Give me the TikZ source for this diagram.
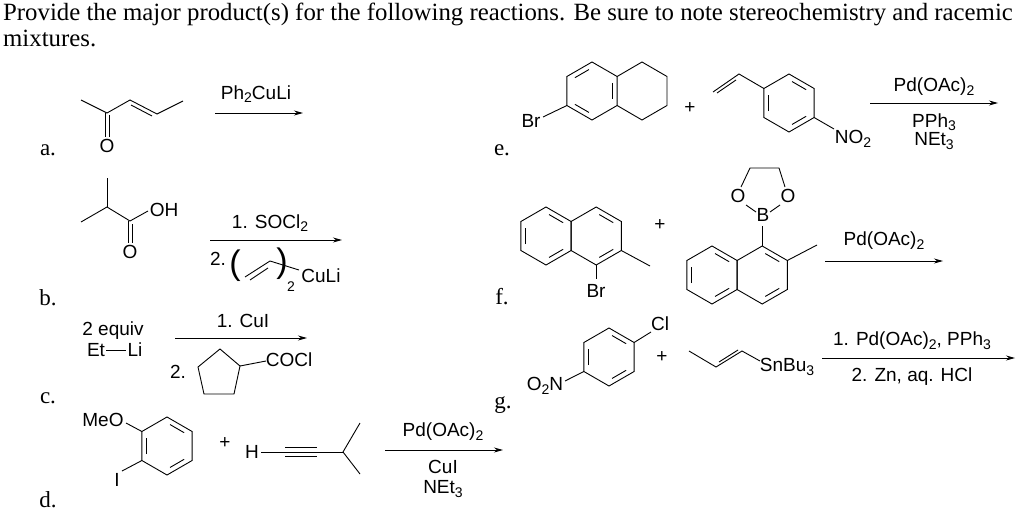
\documentclass[tikz,border=0pt]{standalone}
\usepackage{fontspec}
\setmainfont{Liberation Serif}
\newfontfamily\chemf{Liberation Sans}
\usetikzlibrary{arrows.meta,calc}
\tikzset{
  bd/.style={line width=0.9pt},
  lab/.style={font=\chemf\fontsize{19}{21}\selectfont, inner sep=0pt},
  let/.style={font=\fontsize{23}{24}\selectfont, inner sep=0pt},
  rx/.style={line width=0.9pt,-{Stealth[length=9pt,width=5pt]}},
}
\newcommand\sbs[1]{\raisebox{-0.35ex}{\fontsize{14}{14}\selectfont #1}}
\newcommand\hexring[3]{\draw[bd,shift={(#1,#2)}] (30:#3)--(90:#3)--(150:#3)--(210:#3)--(270:#3)--(330:#3)--cycle;}
\newcommand\inb[5]{\draw[bd,shift={(#1,#2)},shorten <=3.5pt,shorten >=3.5pt] (#3:{#5*0.8}) -- (#4:{#5*0.8});}
\begin{document}
\begin{tikzpicture}[x=1pt,y=-1pt]
\useasboundingbox (0,0) rectangle (1024,513);
% title
\node[anchor=west,inner sep=0pt,font=\fontsize{24.8}{28}\selectfont] (t1) at (3,14) {Provide the major product(s) for the following reactions. Be sure to note stereochemistry and racemic};
\node[anchor=west,inner sep=0pt,font=\fontsize{24.8}{28}\selectfont] (t2) at (3,38) {mixtures.};
% letters
\node[let] (la) at (48,150) {a.};
\node[let] (lb) at (48,298) {b.};
\node[let] (lc) at (48,398) {c.};
\node[let] (ld) at (48,500) {d.};
\node[let] (le) at (502,150) {e.};
\node[let] (lf) at (502,297) {f.};
\node[let] (lg) at (503,405) {g.};
% ---- a
\draw[bd] (81,100)--(107,113)--(130,100)--(157,114)--(183,101);
\draw[bd] (131,105)--(152,116);
\draw[bd] (105,113)--(105,137) (109,115)--(109,137);
\node[lab] (oa) at (107,146) {O};
\coordinate (a1) at (215,113); \coordinate (a2) at (303,113);
\draw[rx] (a1)--(a2);
\node[lab] (ra) at (256,94) {Ph\sbs{2}CuLi};
% ---- b
\draw[bd] (107,178)--(107,207);
\draw[bd] (81,222)--(107,207)--(130,221)--(148,211);
\node[lab] (ohb) at (164,210) {OH};
\draw[bd] (128,221)--(128,243) (132,224)--(132,243);
\node[lab] (ob) at (130,252) {O};
\coordinate (b1) at (210,240); \coordinate (b2) at (342,240);
\draw[rx] (b1)--(b2);
\node[lab] (rb1) at (270,223) {1. SOCl\sbs{2}};
\node[lab] (rb2) at (218,259) {2.};
\node[inner sep=0pt,font=\chemf\fontsize{34}{34}\selectfont] (pl) at (235,266) {(};
\node[inner sep=0pt,font=\chemf\fontsize{34}{34}\selectfont] (pr) at (282,264) {)};
\draw[bd] (245,277)--(270,261)--(299,270);
\draw[bd] (250,280)--(268,268);
\node[inner sep=0pt,font=\chemf\fontsize{14}{14}\selectfont] (sub2) at (291,287) {2};
\node[lab] (culi) at (321,276) {CuLi};
% ---- c
\node[lab] (eq) at (113,331) {2 equiv};
\node[lab] (et) at (96,350) {Et};
\node[lab] (li) at (135,350) {Li};
\draw[bd] (106,350)--(126,350);
\coordinate (c1) at (175,338); \coordinate (c2) at (307,338);
\draw[rx] (c1)--(c2);
\node[lab] (rc1) at (243,321) {1. CuI};
\node[lab] (rc2) at (178,372) {2.};
\draw[bd] (220,349)--(240,366)--(234,394)--(204,394)--(198,367)--cycle;
\draw[bd] (240,366)--(266,361);
\node[lab] (cocl) at (289,360) {COCl};
% ---- d
\hexring{167}{446}{29}
\inb{167}{446}{150}{210}{29}
\inb{167}{446}{270}{330}{29}
\inb{167}{446}{30}{90}{29}
\draw[bd] (141.9,431.5)--(126,423);
\node[lab] (meo) at (103,420) {MeO};
\draw[bd] (141.9,460.5)--(122,471);
\node[lab] (iod) at (117,480) {I};
\node[lab] (pd) at (225,443) {+};
\node[lab] (hd) at (252,452) {H};
\draw[bd] (261,452)--(343,452);
\draw[bd] (285,447.5)--(317,447.5) (285,456.5)--(317,456.5);
\draw[bd] (360,423)--(343,452)--(360,474);
\coordinate (d1) at (385,450); \coordinate (d2) at (503,450);
\draw[rx] (d1)--(d2);
\node[lab] (rd1) at (443,432) {Pd(OAc)\sbs{2}};
\node[lab] (rd2) at (443,467) {CuI};
\node[lab] (rd3) at (443,489) {NEt\sbs{3}};
% ---- e
\hexring{592}{91}{29}
\inb{592}{91}{210}{270}{29}
\inb{592}{91}{330}{30}{29}
\inb{592}{91}{90}{150}{29}
\draw[bd] (617.1,76.5)--(642,62)--(667,76.5)--(667,105.5)--(642,120)--(617.1,105.5);
\draw[bd] (566.9,105.5)--(543,117);
\node[lab] (bre) at (531,121) {Br};
\node[lab] (pe) at (690,108) {+};
\hexring{789}{103}{29}
\inb{789}{103}{150}{210}{29}
\inb{789}{103}{270}{330}{29}
\inb{789}{103}{30}{90}{29}
\draw[bd] (713,92)--(739,74)--(763.9,88.5);
\draw[bd] (717,93)--(736,80);
\draw[bd] (814.1,117.5)--(834,129);
\node[lab] (no2) at (853,139) {NO\sbs{2}};
\coordinate (e1) at (870,103); \coordinate (e2) at (998,103);
\draw[rx] (e1)--(e2);
\node[lab] (re1) at (934,87) {Pd(OAc)\sbs{2}};
\node[lab] (re2) at (934,122) {PPh\sbs{3}};
\node[lab] (re3) at (934,141) {NEt\sbs{3}};
% ---- f
\hexring{546}{236}{29}
\hexring{596.2}{236}{29}
\inb{546}{236}{150}{210}{29}
\inb{546}{236}{270}{330}{29}
\inb{546}{236}{30}{90}{29}
\inb{596.2}{236}{270}{330}{29}
\inb{596.2}{236}{30}{90}{29}
\draw[bd] (621.3,250.5)--(650,266);
\draw[bd] (596.2,265)--(596.2,279);
\node[lab] (brf) at (596,291) {Br};
\node[lab] (pf) at (660,225) {+};
\hexring{712}{275}{29}
\hexring{762.2}{275}{29}
\inb{712}{275}{150}{210}{29}
\inb{712}{275}{270}{330}{29}
\inb{712}{275}{30}{90}{29}
\inb{762.2}{275}{270}{330}{29}
\inb{762.2}{275}{30}{90}{29}
\draw[bd] (762.2,246)--(762.2,226);
\node[lab] (bor) at (763,215) {B};
\node[lab] (o1) at (738,196) {O};
\node[lab] (o2) at (788,196) {O};
\draw[bd] (756,212)--(746,205) (770,212)--(780,205);
\draw[bd] (741,187)--(750,168)--(779,168)--(785,187);
\draw[bd] (787.3,260.5)--(817,245);
\coordinate (f1) at (825,261); \coordinate (f2) at (943,261);
\draw[rx] (f1)--(f2);
\node[lab] (rf1) at (884,241) {Pd(OAc)\sbs{2}};
% ---- g
\hexring{609}{357}{29}
\inb{609}{357}{150}{210}{29}
\inb{609}{357}{270}{330}{29}
\inb{609}{357}{30}{90}{29}
\draw[bd] (634.1,342.5)--(651,332);
\node[lab] (cl) at (660,324) {Cl};
\draw[bd] (583.9,371.5)--(565,381);
\node[lab] (o2n) at (545,386) {O\sbs{2}N};
\node[lab] (pg) at (662,357) {+};
\draw[bd] (689,351)--(716,367)--(742,351)--(760,361);
\draw[bd] (719,362)--(738,350);
\node[lab] (sn) at (787,367) {SnBu\sbs{3}};
\coordinate (g1) at (822,358); \coordinate (g2) at (1015,358);
\draw[rx] (g1)--(g2);
\node[lab] (rg1) at (912,341) {1. Pd(OAc)\sbs{2}, PPh\sbs{3}};
\node[lab] (rg2) at (912,377) {2. Zn, aq. HCl};
\end{tikzpicture}
\end{document}
